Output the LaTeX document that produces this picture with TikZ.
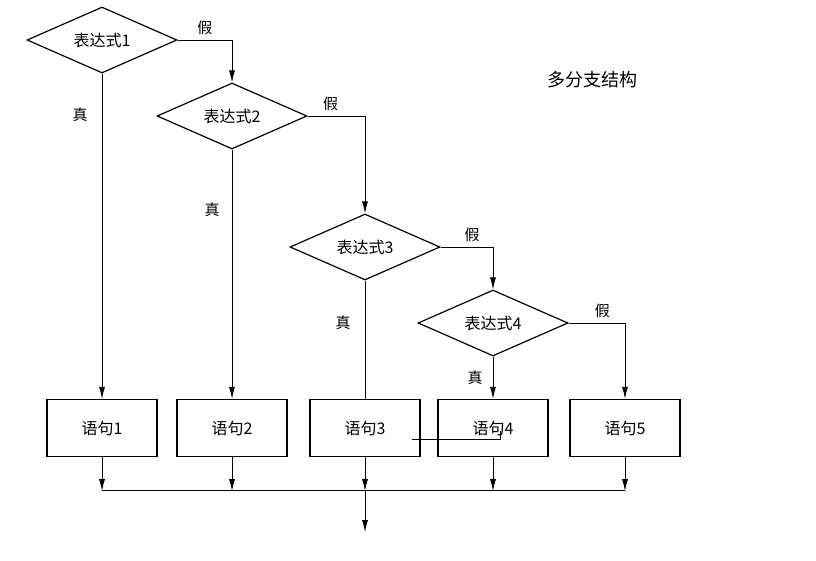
\documentclass[tikz,border=0pt]{standalone}
\usepackage{fontspec}
\newfontfamily\cjk{Noto Sans CJK SC}
\usetikzlibrary{shapes.geometric,arrows.meta}
\begin{document}
\begin{tikzpicture}[x=1pt,y=-1pt,
  dec/.style={diamond,draw,line width=1.2pt,minimum width=150pt,minimum height=66pt,aspect=2.3,inner sep=0pt,font=\cjk\fontsize{16}{18}\selectfont},
  stmt/.style={draw,line width=1.2pt,minimum width=110pt,minimum height=57pt,font=\cjk\fontsize{16}{18}\selectfont},
  lbl/.style={font=\cjk\fontsize{15}{18}\selectfont},
  arr/.style={-{Latex[length=12pt,width=6pt]},line width=0.8pt},
  ln/.style={line width=0.8pt}]
\useasboundingbox (0,0) rectangle (816,560);
\node[dec] (d1) at (102,40) {表达式1};
\node[dec] (d2) at (232,116) {表达式2};
\node[dec] (d3) at (365,247) {表达式3};
\node[dec] (d4) at (493,323) {表达式4};
\foreach \i/\x in {1/102,2/232,3/365,4/493,5/625}
  \node[stmt] (s\i) at (\x,428) {语句\i};
\node[font=\cjk\fontsize{18}{20}\selectfont] (t) at (592,80) {多分支结构};
\draw[arr] (d1.east) -| (d2.north) node[lbl,pos=0.25,above=2pt] {假};
\draw[arr] (d2.east) -| (d3.north) node[lbl,pos=0.2,above=2pt] {假};
\draw[arr] (d3.east) -| (d4.north) node[lbl,pos=0.3,above=2pt] {假};
\draw[arr] (d4.east) -| (s5.north) node[lbl,pos=0.3,above=2pt] {假};
\draw[arr] (d1.south) -- (s1.north);
\node[lbl] (l1) at (80,115) {真};
\draw[arr] (d2.south) -- (s2.north);
\node[lbl] (l2) at (212,210) {真};
\draw[ln] (d3.south) -- (s3.north);
\node[lbl] (l3) at (343,323) {真};
\draw[arr] (d4.south) -- (s4.north);
\node[lbl] (l4) at (475,378) {真};
\coordinate (b1) at (102,490);
\coordinate (b5) at (625,490);
\foreach \i in {1,...,5} \draw[arr] (s\i.south) -- +(0,34);
\draw[line width=0.5pt] (b1) -- (b5);
\coordinate (bm) at (365,490);
\coordinate (end) at (365,532);
\draw[arr] (bm) -- (end);
\coordinate (a1) at (412,439);
\coordinate (a2) at (500,439);
\coordinate (a3) at (500,431);
\draw[line width=0.5pt] (a1) -- (a2) -- (a3);
\end{tikzpicture}
\end{document}
